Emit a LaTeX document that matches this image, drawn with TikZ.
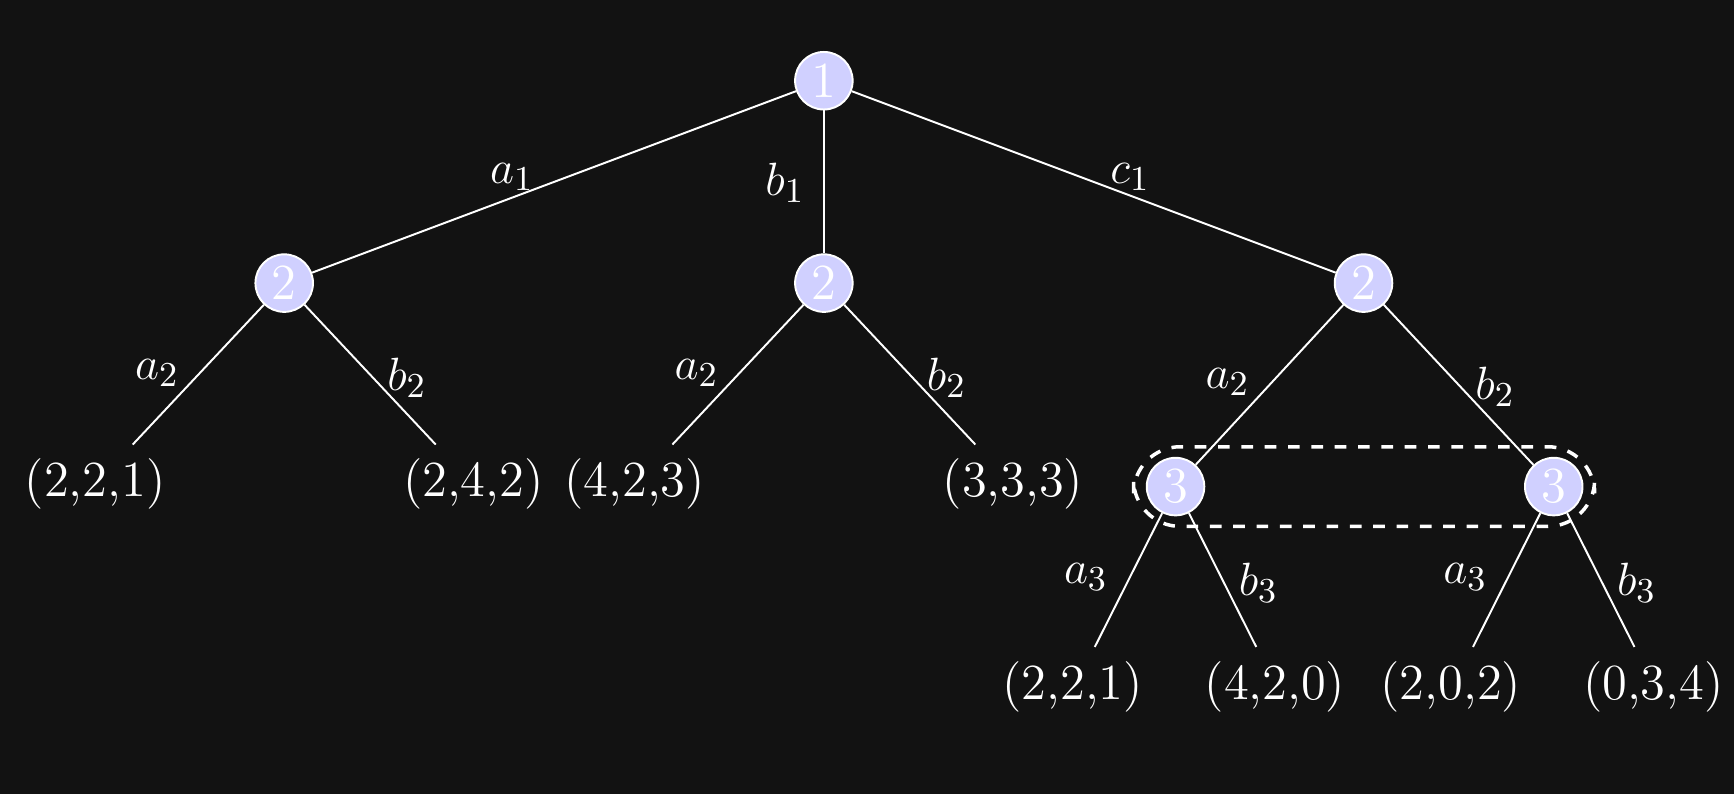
\documentclass[tikz,border=0pt]{standalone}
\begin{document}
\begin{tikzpicture}[x=0.01cm,y=-0.01cm,
  pl/.style={circle,fill=nodec,draw=white,line width=0.5pt,minimum size=0.52cm,inner sep=0pt,text=white,font=\fontsize{13}{15}\selectfont},
  edge/.style={draw=white,line width=0.5pt},
  lab/.style={text=white,font=\fontsize{13}{15}\selectfont},
  pay/.style={text=white,font=\fontsize{13}{15}\selectfont}]
\definecolor{bgc}{HTML}{121212}
\definecolor{nodec}{RGB}{208,208,255}
\fill[bgc] (0,0) rectangle (1568,718);
\useasboundingbox (0,0) rectangle (1568,718);
\draw[white,dashed,line width=0.9pt,rounded corners=12] (1025,404) rectangle (1442,476);
\node[pl] (r) at (745,73) {1};
\node[pl] (n1) at (257,256) {2};
\node[pl] (n2) at (745,256) {2};
\node[pl] (n3) at (1233,256) {2};
\node[pl] (m1) at (1063,440) {3};
\node[pl] (m2) at (1405,440) {3};
\foreach \n/\x/\y in {e1/120/402,e2/394/402,e3/608/402,e4/882/402,f1/990/585,f2/1136/585,f3/1332/585,f4/1478/585}
  \coordinate (\n) at (\x,\y);
\draw[edge] (r) -- (n1); \draw[edge] (r) -- (n2); \draw[edge] (r) -- (n3);
\draw[edge] (n1) -- (e1); \draw[edge] (n1) -- (e2);
\draw[edge] (n2) -- (e3); \draw[edge] (n2) -- (e4);
\draw[edge] (n3) -- (m1); \draw[edge] (n3) -- (m2);
\draw[edge] (m1) -- (f1); \draw[edge] (m1) -- (f2);
\draw[edge] (m2) -- (f3); \draw[edge] (m2) -- (f4);
\node[pay] (p1) at (86,438) {(2,2,1)};
\node[pay] (p2) at (428,438) {(2,4,2)};
\node[pay] (p3) at (574,438) {(4,2,3)};
\node[pay] (p4) at (916,438) {(3,3,3)};
\node[pay] (q1) at (970,621) {(2,2,1)};
\node[pay] (q2) at (1153,621) {(4,2,0)};
\node[pay] (q3) at (1312,621) {(2,0,2)};
\node[pay] (q4) at (1495,621) {(0,3,4)};
\node[lab] (la1) at (463,160) {$a_1$};
\node[lab] (lb1) at (710,165) {$b_1$};
\node[lab] (lc1) at (1022,160) {$c_1$};
\node[lab] (l1) at (142,337) {$a_2$};
\node[lab] (l2) at (368,342) {$b_2$};
\node[lab] (l3) at (630,337) {$a_2$};
\node[lab] (l4) at (856,342) {$b_2$};
\node[lab] (l5) at (1110,345) {$a_2$};
\node[lab] (l6) at (1352,350) {$b_2$};
\node[lab] (l7) at (982,522) {$a_3$};
\node[lab] (l8) at (1138,527) {$b_3$};
\node[lab] (l9) at (1325,522) {$a_3$};
\node[lab] (l10) at (1480,527) {$b_3$};
\end{tikzpicture}
\end{document}
